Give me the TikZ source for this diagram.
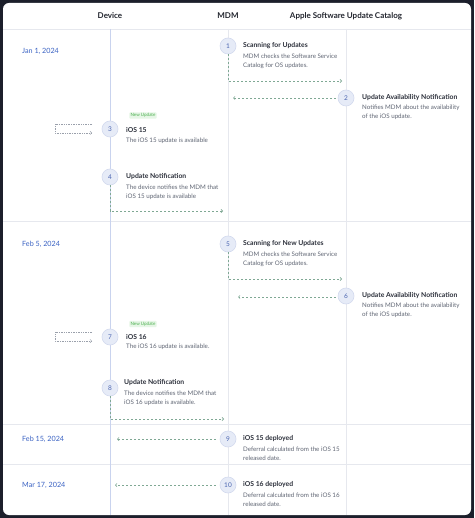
\documentclass[tikz,border=0pt]{standalone}
\usepackage{fontspec}
\setmainfont{Lato}
\usetikzlibrary{arrows.meta}
\definecolor{bgdark}{HTML}{1C1F2B}
\definecolor{datec}{HTML}{3B63C4}
\definecolor{circfill}{HTML}{E6EBF7}
\definecolor{circdraw}{HTML}{D3DAEE}
\definecolor{numc}{HTML}{4A64B0}
\definecolor{devline}{HTML}{C9D3EE}
\definecolor{gridc}{HTML}{E6E8EE}
\definecolor{flowc}{HTML}{7FA894}
\definecolor{dotc}{HTML}{9AA0AB}
\definecolor{titlec}{HTML}{2B2F3A}
\definecolor{descc}{HTML}{5F6573}
\definecolor{headc}{HTML}{23262F}
\definecolor{badgefill}{HTML}{E6F6E6}
\definecolor{badgetext}{HTML}{4CAF50}
\tikzset{
  stepc/.style={circle, fill=circfill, draw=circdraw, line width=0.6pt, minimum size=16pt, inner sep=0pt, text=numc, font=\fontsize{6.5}{7}\selectfont},
  ttl/.style={anchor=west, inner sep=0pt, font=\fontsize{6.8}{8}\selectfont\bfseries, text=titlec},
  desc/.style={anchor=north west, align=left, inner sep=0pt, font=\fontsize{6.2}{9}\selectfont, text=descc},
  datel/.style={anchor=west, inner sep=0pt, font=\fontsize{7.2}{8}\selectfont, text=datec},
  headl/.style={inner sep=0pt, font=\fontsize{8}{9}\selectfont\bfseries, text=headc},
  badge/.style={fill=badgefill, inner sep=1.2pt, rounded corners=1pt, text=badgetext, font=\fontsize{4.5}{5}\selectfont},
  dflow/.style={draw=flowc, line width=0.6pt, dash pattern=on 2pt off 2pt, -{Straight Barb[length=1.6pt,width=3.2pt]}},
  dotflow/.style={draw=dotc, line width=0.45pt, dash pattern=on 0.7pt off 1pt, -{Straight Barb[length=1.6pt,width=3.2pt]}},
  gridl/.style={draw=gridc, line width=0.6pt}
}
\begin{document}
\begin{tikzpicture}[x=1pt,y=-1pt]
\useasboundingbox (0,0) rectangle (474,518);
\fill[bgdark] (0,0) rectangle (474,518);
\fill[white, rounded corners=6pt] (3,3) rectangle (471,515);
% header
\node[headl] (hdev) at (110,16) {Device};
\node[headl] (hmdm) at (228,16) {MDM};
\node[headl] (hcat) at (346,16) {Apple Software Update Catalog};
% grid lines
\draw[gridl] (3,29) -- (471,29);
\draw[gridl] (3,221) -- (471,221);
\draw[gridl] (3,424) -- (471,424);
\draw[gridl] (3,464) -- (471,464);
\draw[gridl] (228,29) -- (228,515);
\draw[gridl] (346,29) -- (346,515);
\draw[draw=devline, line width=0.9pt] (110,29) -- (110,515);
% dates
\node[datel] (d1) at (22,51) {Jan 1, 2024};
\node[datel] (d2) at (22,244) {Feb 5, 2024};
\node[datel] (d3) at (22,439) {Feb 15, 2024};
\node[datel] (d4) at (22,485) {Mar 17, 2024};
% step 1
\node[stepc] (s1) at (228,46) {1};
\node[ttl] (t1) at (243,46) {Scanning for Updates};
\node[desc] (x1) at (243,53.5) {MDM checks the Software Service\\Catalog for OS updates.};
\coordinate (c1) at (228,81);
\coordinate (e1) at (342,81);
\draw[dflow] (s1) -- (c1) -- (e1);
% step 2
\node[stepc] (s2) at (346,98) {2};
\node[ttl] (t2) at (362,98) {Update Availability Notification};
\node[desc] (x2) at (362,104.5) {Notifies MDM about the availability\\of the iOS update.};
\coordinate (e2) at (233,98);
\draw[dflow, shorten <=2pt] (s2) -- (e2);
% step 3
\node[badge] (b3) at (143,115.5) {New Update};
\node[stepc] (s3) at (110,129) {3};
\node[ttl] (t3) at (126,130) {iOS 15};
\node[desc] (x3) at (126,137.5) {The iOS 15 update is available};
\coordinate (p3a) at (92,124);
\coordinate (p3b) at (55,124);
\coordinate (p3c) at (55,133);
\coordinate (p3d) at (92,133);
\draw[dotflow] (p3a) -- (p3b) -- (p3c) -- (p3d);
% step 4
\node[stepc] (s4) at (110,177) {4};
\node[ttl] (t4) at (126,177) {Update Notification};
\node[desc] (x4) at (126,184.5) {The device notifies the MDM that\\iOS 15 update is available};
\coordinate (c4) at (110,211);
\coordinate (e4) at (223,211);
\draw[dflow] (s4) -- (c4) -- (e4);
% step 5
\node[stepc] (s5) at (228,244) {5};
\node[ttl] (t5) at (243,244) {Scanning for New Updates};
\node[desc] (x5) at (243,251.5) {MDM checks the Software Service\\Catalog for OS updates.};
\coordinate (c5) at (228,279);
\coordinate (e5) at (342,279);
\draw[dflow] (s5) -- (c5) -- (e5);
% step 6
\node[stepc] (s6) at (346,296) {6};
\node[ttl] (t6) at (362,296) {Update Availability Notification};
\node[desc] (x6) at (362,302.5) {Notifies MDM about the availability\\of the iOS update.};
\coordinate (e6) at (238,297);
\draw[dflow, shorten <=2pt] (s6.west |- e6) -- (e6);
% step 7
\node[badge] (b7) at (143,324) {New Update};
\node[stepc] (s7) at (110,337) {7};
\node[ttl] (t7) at (126,337) {iOS 16};
\node[desc] (x7) at (126,343.5) {The iOS 16 update is available.};
\coordinate (p7a) at (92,332);
\coordinate (p7b) at (55,332);
\coordinate (p7c) at (55,341);
\coordinate (p7d) at (92,341);
\draw[dotflow] (p7a) -- (p7b) -- (p7c) -- (p7d);
% step 8
\node[stepc] (s8) at (110,388) {8};
\node[ttl] (t8) at (124,383) {Update Notification};
\node[desc] (x8) at (124,390.5) {The device notifies the MDM that\\iOS 16 update is available.};
\coordinate (c8) at (110,419);
\coordinate (e8) at (224,419);
\draw[dflow] (s8) -- (c8) -- (e8);
% step 9
\node[stepc] (s9) at (228,439) {9};
\node[ttl] (t9) at (243,439) {iOS 15 deployed};
\node[desc] (x9) at (243,446.5) {Deferral calculated from the iOS 15\\released date.};
\coordinate (e9) at (117,439);
\draw[dflow, shorten <=4pt] (s9) -- (e9);
% step 10
\node[stepc] (s10) at (228,485) {10};
\node[ttl] (t10) at (243,485) {iOS 16 deployed};
\node[desc] (x10) at (243,492.5) {Deferral calculated from the iOS 16\\released date.};
\coordinate (e10) at (115,485);
\draw[dflow, shorten <=4pt] (s10) -- (e10);
\end{tikzpicture}
\end{document}
